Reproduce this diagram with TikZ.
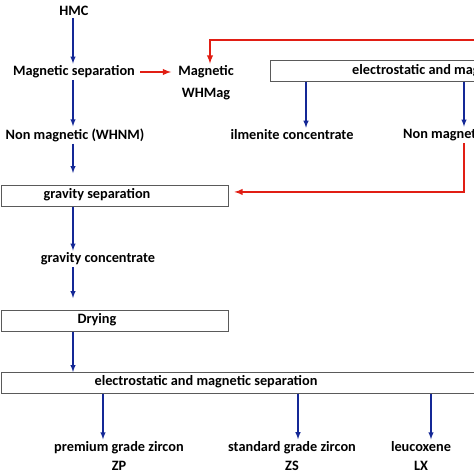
\documentclass[tikz,border=0pt]{standalone}
\usepackage{fontspec}
\setmainfont{Carlito}
\usetikzlibrary{positioning}
\definecolor{flowblue}{RGB}{20,40,150}
\definecolor{flowred}{RGB}{225,30,20}
\definecolor{boxgray}{RGB}{90,90,90}
\tikzset{>=latex}

\begin{document}
\begin{tikzpicture}[x=1pt, y=-1pt,
    lbl/.style={font=\fontsize{14.3}{22}\selectfont\bfseries, inner sep=2pt, align=center},
    procbox/.style={draw=boxgray, line width=0.9pt, anchor=north west, inner sep=0pt, minimum height=21pt},
    bluearr/.style={->, flowblue, line width=1.4pt},
    redarr/.style={->, flowred, line width=1.8pt}]
      \useasboundingbox (0,0) rectangle (474,474);
      % left column
      \node (hmc) [lbl] at (74,11) {HMC};
      \node (magsep) [lbl] at (74,72) {Magnetic separation};
      \node (magn) [lbl] at (206,83) {Magnetic\\WHMag};
      \node (whnm) [lbl] at (75,135) {Non magnetic (WHNM)};
      \node (gbox) [procbox, minimum width=227pt] at (0.5,185) {};
      \node (gsep) [lbl] at (97,195) {gravity separation};
      \node (gconc) [lbl] at (98,259) {gravity concentrate};
      \node (dbox) [procbox, minimum width=227pt] at (0.5,310) {};
      \node (dry) [lbl] at (97,320) {Drying};
      % right branch
      \node (ebox1) [procbox, minimum width=240pt] at (270,60) {};
      \node (esep1) [lbl, anchor=west] at (350,71) {electrostatic and magnetic separation};
      \node (ilm) [lbl] at (292,135) {ilmenite concentrate};
      \node (nonmag) [lbl, anchor=west] at (401,135) {Non magnetic};
      % final separation
      \node (ebox2) [procbox, minimum width=490pt] at (0.5,372) {};
      \node (esep2) [lbl] at (206,382) {electrostatic and magnetic separation};
      \node (zp) [lbl] at (119,456) {premium grade zircon\\[-3pt]ZP};
      \node (zs) [lbl] at (292,456) {standard grade zircon\\[-3pt]ZS};
      \node (lx) [lbl] at (421,456) {leucoxene\\[-3pt]LX};

      \coordinate (c1) at (73,0);
      \coordinate (c2) at (306,0);
      \coordinate (c3) at (464,0);
      \coordinate (c4) at (103,0);
      \coordinate (c5) at (298,0);
      \coordinate (c6) at (431,0);
      \coordinate (c7) at (210,0);
      \coordinate (fb) at (480,40);

      \draw[bluearr] (hmc.south -| c1) -- (magsep.north -| c1);
      \draw[bluearr] (magsep.south -| c1) -- (whnm.north -| c1);
      \draw[bluearr, shorten >=12pt] (whnm.south -| c1) -- (gbox.north -| c1);
      \draw[bluearr] (gbox.south -| c1) -- (gconc.north -| c1);
      \draw[bluearr, shorten >=12pt] (gconc.south -| c1) -- (dbox.north -| c1);
      \draw[bluearr] (dbox.south -| c1) -- (ebox2.north -| c1);
      \draw[bluearr] (ebox1.south -| c2) -- (ilm.north -| c2);
      \draw[bluearr] (ebox1.south -| c3) -- (nonmag.north -| c3);
      \draw[bluearr] (ebox2.south -| c4) -- (zp.north -| c4);
      \draw[bluearr] (ebox2.south -| c5) -- (zs.north -| c5);
      \draw[bluearr] (ebox2.south -| c6) -- (lx.north -| c6);

      % red loops
      \draw[redarr, shorten <=3pt, shorten >=5pt] (magsep.east) -- (magsep.east -| magn.west);
      \draw[redarr] (fb) -| (magn.north -| c7);
      \draw[redarr, shorten >=6pt] (nonmag.south -| c3) |- ([yshift=4pt]gbox.east);
\end{tikzpicture}
\end{document}
